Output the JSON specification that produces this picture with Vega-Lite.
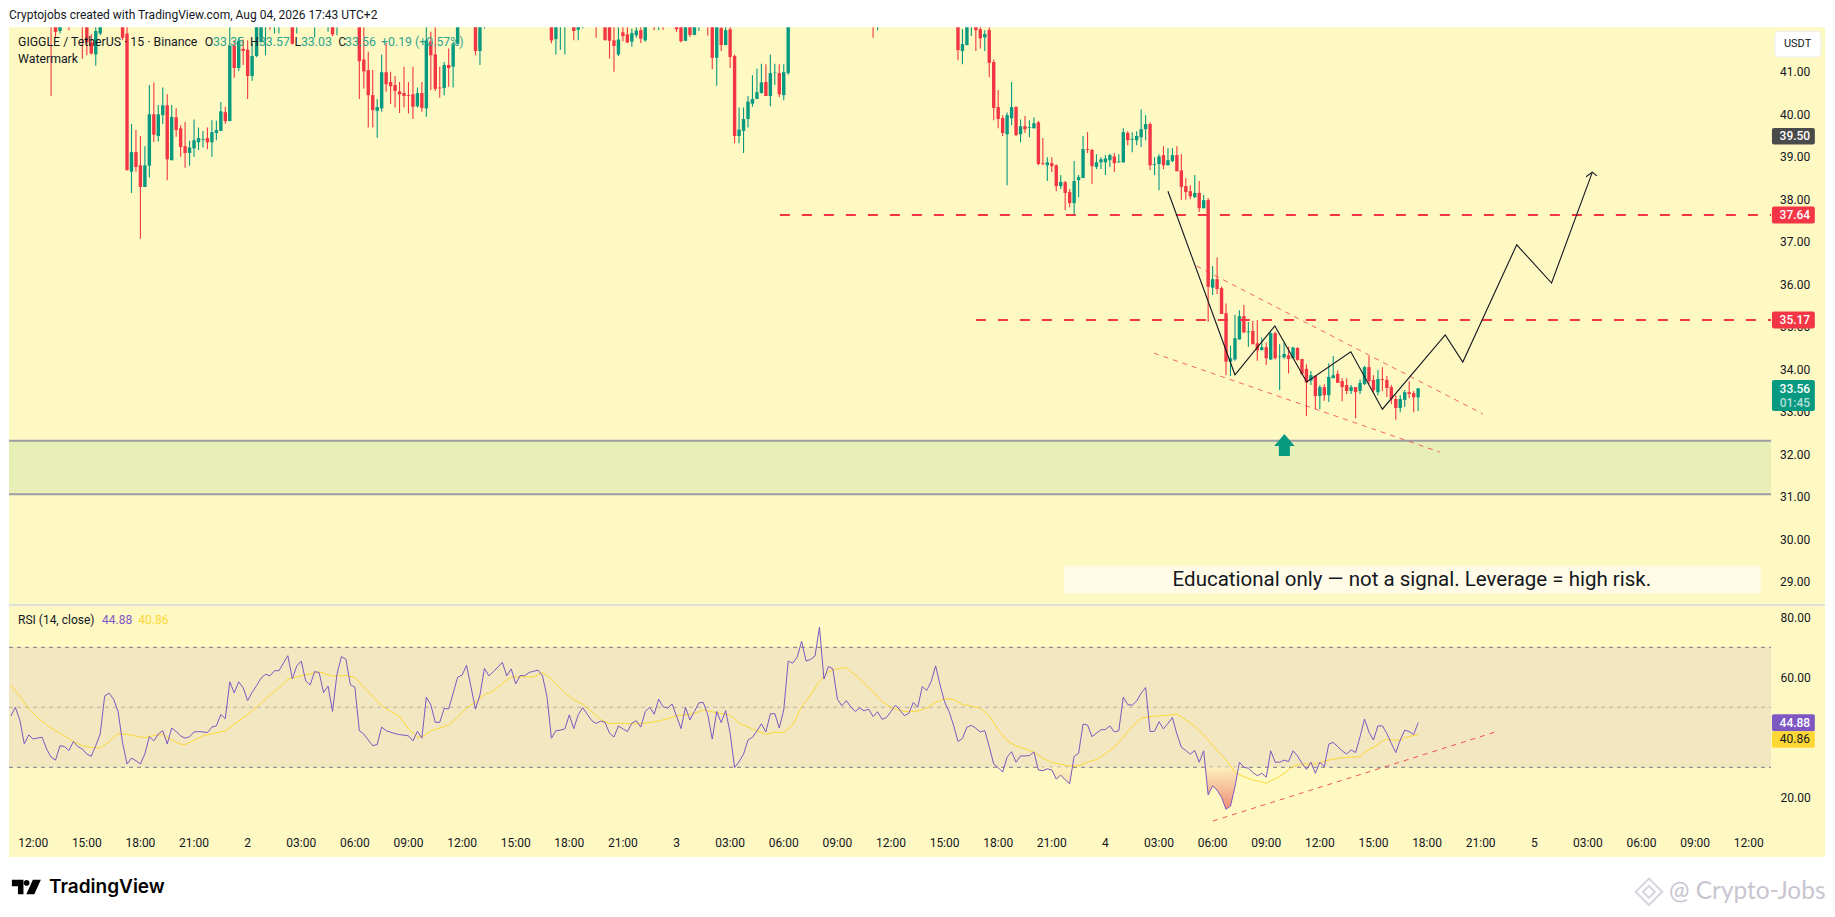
{
"$schema":"https://vega.github.io/schema/vega-lite/v6.json",
"description":"GIGGLE / TetherUS 15m candles with RSI and drawn projection",
"background":"#ffffff",
"width":1835,"height":917,
"padding":0,
"autosize":{"type":"none"},
"view":{"fill":"#FEF8C3","stroke":null},
"config":{"text":{"font":"Roboto"},"axis":{"labelFont":"Roboto"}},
"resolve":{"scale":{"y":"independent"},"axis":{"y":"independent"}},
"datasets":{
"bars":[
{"t":"2026-08-01T10:45Z","r":47.1},{"t":"2026-08-01T11:00Z","r":50},{"t":"2026-08-01T11:15Z","r":45.8},{"t":"2026-08-01T11:30Z","r":37.8},{"t":"2026-08-01T11:45Z","r":40.8},{"t":"2026-08-01T12:00Z","r":39.4},{"t":"2026-08-01T12:15Z","r":39.8},{"t":"2026-08-01T12:30Z","r":40},{"t":"2026-08-01T12:45Z","r":36.1},
{"t":"2026-08-01T13:00Z","r":33.4,"o":42.5,"h":42.6,"l":40.44,"c":42.2},
{"t":"2026-08-01T13:15Z","r":32.4,"o":42.3,"h":42.4,"l":41.83,"c":41.95},
{"t":"2026-08-01T13:30Z","r":37.2,"o":41.97,"h":42.4,"l":41.91,"c":42.3},
{"t":"2026-08-01T13:45Z","r":36.9},
{"t":"2026-08-01T14:00Z","r":35.6,"o":42.4,"h":42.5,"l":41.99,"c":42.2},
{"t":"2026-08-01T14:15Z","r":38.6},{"t":"2026-08-01T14:30Z","r":36.9},
{"t":"2026-08-01T14:45Z","r":36.1,"o":42.4,"h":42.5,"l":41.32,"c":42.2},
{"t":"2026-08-01T15:00Z","r":34.4,"o":42.3,"h":42.4,"l":41.4,"c":41.7},
{"t":"2026-08-01T15:15Z","r":33.7,"o":41.7,"h":41.9,"l":41.42,"c":41.44},
{"t":"2026-08-01T15:30Z","r":37.2,"o":41.42,"h":42.1,"l":41.15,"c":41.97},
{"t":"2026-08-01T15:45Z","r":41.1,"o":41.91,"h":42.4,"l":41.87,"c":42.3},
{"t":"2026-08-01T16:00Z","r":53.8},{"t":"2026-08-01T16:15Z","r":54.7},{"t":"2026-08-01T16:30Z","r":52.7},{"t":"2026-08-01T16:45Z","r":48.6},
{"t":"2026-08-01T17:00Z","r":38.2,"o":42.3,"h":42.4,"l":41.75,"c":41.81},
{"t":"2026-08-01T17:15Z","r":31.1,"o":41.91,"h":42.3,"l":38.68,"c":38.7},
{"t":"2026-08-01T17:30Z","r":33.1,"o":38.66,"h":39.78,"l":38.16,"c":39.12},
{"t":"2026-08-01T17:45Z","r":32.2,"o":39.12,"h":39.64,"l":38.66,"c":38.77},
{"t":"2026-08-01T18:00Z","r":31.1,"o":38.81,"h":39.5,"l":37.08,"c":38.3},
{"t":"2026-08-01T18:15Z","r":34.5,"o":38.3,"h":39.26,"l":38.3,"c":38.81},
{"t":"2026-08-01T18:30Z","r":40.2,"o":38.8,"h":40.7,"l":38.52,"c":40.01},
{"t":"2026-08-01T18:45Z","r":38.8,"o":40.01,"h":40.76,"l":39.36,"c":39.53},
{"t":"2026-08-01T19:00Z","r":41.1,"o":39.5,"h":40.23,"l":39.37,"c":40.01},
{"t":"2026-08-01T19:15Z","r":42.2,"o":39.99,"h":40.64,"l":39.78,"c":40.22},
{"t":"2026-08-01T19:30Z","r":37.8,"o":40.22,"h":40.48,"l":38.46,"c":38.95},
{"t":"2026-08-01T19:45Z","r":43.1,"o":38.93,"h":40.23,"l":38.93,"c":39.95},
{"t":"2026-08-01T20:00Z","r":41.9,"o":39.94,"h":40.15,"l":39.48,"c":39.64},
{"t":"2026-08-01T20:15Z","r":40.5,"o":39.68,"h":39.75,"l":39.01,"c":39.24},
{"t":"2026-08-01T20:30Z","r":39.7,"o":39.26,"h":39.83,"l":38.75,"c":39.1},
{"t":"2026-08-01T20:45Z","r":40.2,"o":39.1,"h":39.39,"l":38.8,"c":39.23},
{"t":"2026-08-01T21:00Z","r":41.8,"o":39.21,"h":39.89,"l":39.01,"c":39.4},
{"t":"2026-08-01T21:15Z","r":41.9,"o":39.35,"h":39.7,"l":39.17,"c":39.45},
{"t":"2026-08-01T21:30Z","r":41.8,"o":39.41,"h":39.62,"l":39.23,"c":39.43},
{"t":"2026-08-01T21:45Z","r":41.6,"o":39.45,"h":39.7,"l":39.19,"c":39.35},
{"t":"2026-08-01T22:00Z","r":43.4,"o":39.35,"h":39.87,"l":39.01,"c":39.59},
{"t":"2026-08-01T22:15Z","r":43.8,"o":39.57,"h":39.86,"l":39.4,"c":39.64},
{"t":"2026-08-01T22:30Z","r":47.6,"o":39.62,"h":40.3,"l":39.62,"c":40.08},
{"t":"2026-08-01T22:45Z","r":46.2,"o":40.06,"h":40.19,"l":39.79,"c":39.85},
{"t":"2026-08-01T23:00Z","r":58.5,"o":39.85,"h":42.2,"l":39.85,"c":41.62},
{"t":"2026-08-01T23:15Z","r":54.8,"o":41.62,"h":41.75,"l":40.87,"c":41.1},
{"t":"2026-08-01T23:30Z","r":58.5,"o":41.1,"h":41.81,"l":41.03,"c":41.74},
{"t":"2026-08-01T23:45Z","r":56.5,"o":41.55,"h":41.77,"l":41.17,"c":41.5},
{"t":"2026-08-02T00:00Z","r":52.2,"o":41.53,"h":41.75,"l":40.37,"c":40.91},
{"t":"2026-08-02T00:15Z","r":55,"o":40.91,"h":41.68,"l":40.8,"c":41.38},
{"t":"2026-08-02T00:30Z","r":57.2,"o":41.38,"h":42.4,"l":41.35,"c":42.2},
{"t":"2026-08-02T00:45Z","r":59.7,"o":41.71,"h":42.4,"l":41.7,"c":42.3},
{"t":"2026-08-02T01:00Z","r":61,"o":42.15,"h":42.5,"l":41.4,"c":42.4},
{"t":"2026-08-02T01:15Z","r":60.5,"o":42.5,"h":42.6,"l":42,"c":42.2},
{"t":"2026-08-02T01:30Z","r":62.2,"o":42.1,"h":42.5,"l":41.91,"c":42.4},
{"t":"2026-08-02T01:45Z","r":62.2,"o":42.1,"h":42.5,"l":41.91,"c":42.4},
{"t":"2026-08-02T02:00Z","r":64.7},{"t":"2026-08-02T02:15Z","r":67.2},
{"t":"2026-08-02T02:30Z","r":59.5,"o":42.3,"h":42.4,"l":41.65,"c":41.67},
{"t":"2026-08-02T02:45Z","r":63.8,"o":42.15,"h":42.4,"l":41.91,"c":42.3},
{"t":"2026-08-02T03:00Z","r":65.4},{"t":"2026-08-02T03:15Z","r":58.8},{"t":"2026-08-02T03:30Z","r":57.5},
{"t":"2026-08-02T03:45Z","r":61.9,"o":42.15,"h":42.5,"l":41.82,"c":42.4},
{"t":"2026-08-02T04:00Z","r":61.6},{"t":"2026-08-02T04:15Z","r":54.9},
{"t":"2026-08-02T04:30Z","r":57.1,"o":42.15,"h":42.5,"l":41.95,"c":42.4},
{"t":"2026-08-02T04:45Z","r":48.6,"o":42.3,"h":42.4,"l":41.85,"c":41.89},
{"t":"2026-08-02T05:00Z","r":61.1,"o":42.15,"h":42.5,"l":41.87,"c":42.4},
{"t":"2026-08-02T05:15Z","r":66.9},{"t":"2026-08-02T05:30Z","r":66},{"t":"2026-08-02T05:45Z","r":57.5},{"t":"2026-08-02T06:00Z","r":56.7},
{"t":"2026-08-02T06:15Z","r":42.2,"o":42.4,"h":42.5,"l":40.37,"c":41.26},
{"t":"2026-08-02T06:30Z","r":41.1,"o":41.3,"h":42.2,"l":40.62,"c":41.02},
{"t":"2026-08-02T06:45Z","r":39.1,"o":41.05,"h":41.48,"l":39.7,"c":40.46},
{"t":"2026-08-02T07:00Z","r":37.2,"o":40.46,"h":41.05,"l":39.7,"c":40.11},
{"t":"2026-08-02T07:15Z","r":37.6,"o":40.09,"h":40.37,"l":39.46,"c":40.18},
{"t":"2026-08-02T07:30Z","r":43.4,"o":40.15,"h":41.42,"l":40.07,"c":41},
{"t":"2026-08-02T07:45Z","r":42.2,"o":41,"h":41.69,"l":40.54,"c":40.72},
{"t":"2026-08-02T08:00Z","r":41.7,"o":40.77,"h":41.01,"l":40.25,"c":40.67},
{"t":"2026-08-02T08:15Z","r":41.2,"o":40.7,"h":40.91,"l":40.17,"c":40.56},
{"t":"2026-08-02T08:30Z","r":40.9,"o":40.55,"h":40.77,"l":40.04,"c":40.48},
{"t":"2026-08-02T08:45Z","r":40.7,"o":40.51,"h":41.13,"l":40.17,"c":40.44},
{"t":"2026-08-02T09:00Z","r":40.5,"o":40.46,"h":40.77,"l":40.03,"c":40.44},
{"t":"2026-08-02T09:15Z","r":38.8,"o":40.48,"h":41.13,"l":39.9,"c":40.19},
{"t":"2026-08-02T09:30Z","r":42,"o":40.2,"h":40.64,"l":40.17,"c":40.51},
{"t":"2026-08-02T09:45Z","r":39.7,"o":40.51,"h":40.77,"l":40.07,"c":40.16},
{"t":"2026-08-02T10:00Z","r":53.4,"o":40.15,"h":42.3,"l":39.95,"c":41.75},
{"t":"2026-08-02T10:15Z","r":50.8,"o":41.72,"h":41.95,"l":40.58,"c":41.4},
{"t":"2026-08-02T10:30Z","r":45,"o":41.42,"h":42.2,"l":40.56,"c":40.61},
{"t":"2026-08-02T10:45Z","r":45,"o":40.64,"h":41.13,"l":40.4,"c":40.62},
{"t":"2026-08-02T11:00Z","r":49.6,"o":40.63,"h":41.24,"l":40.46,"c":41.17},
{"t":"2026-08-02T11:15Z","r":49.5,"o":41.17,"h":41.56,"l":40.66,"c":41.1},
{"t":"2026-08-02T11:30Z","r":54.7,"o":41.13,"h":41.71,"l":40.64,"c":41.67},
{"t":"2026-08-02T11:45Z","r":60,"o":41.67,"h":42.4,"l":41.65,"c":42.2},
{"t":"2026-08-02T12:00Z","r":60.7},{"t":"2026-08-02T12:15Z","r":64},{"t":"2026-08-02T12:30Z","r":56.7},
{"t":"2026-08-02T12:45Z","r":49.4,"o":42.3,"h":42.4,"l":41.4,"c":41.5},
{"t":"2026-08-02T13:00Z","r":54.1,"o":41.5,"h":42.4,"l":41.17,"c":42.3},
{"t":"2026-08-02T13:15Z","r":63,"o":42.2,"h":42.5,"l":42.03,"c":42.4},
{"t":"2026-08-02T13:30Z","r":60.5},{"t":"2026-08-02T13:45Z","r":61.9},{"t":"2026-08-02T14:00Z","r":63.4},{"t":"2026-08-02T14:15Z","r":65},{"t":"2026-08-02T14:30Z","r":60.5},{"t":"2026-08-02T14:45Z","r":62.8},{"t":"2026-08-02T15:00Z","r":57.8},{"t":"2026-08-02T15:15Z","r":60.6},{"t":"2026-08-02T15:30Z","r":60.5},{"t":"2026-08-02T15:45Z","r":61.6},{"t":"2026-08-02T16:00Z","r":62},{"t":"2026-08-02T16:15Z","r":62.4},{"t":"2026-08-02T16:30Z","r":60.5},{"t":"2026-08-02T16:45Z","r":53.6},
{"t":"2026-08-02T17:00Z","r":39.7,"o":42.4,"h":42.5,"l":41.68,"c":41.75},
{"t":"2026-08-02T17:15Z","r":42.2,"o":41.78,"h":42.4,"l":41.42,"c":42.3},
{"t":"2026-08-02T17:30Z","r":42.4,"o":42.15,"h":42.5,"l":41.53,"c":42.4},
{"t":"2026-08-02T17:45Z","r":42.8,"o":42.15,"h":42.5,"l":41.42,"c":42.4},
{"t":"2026-08-02T18:00Z","r":47.5},
{"t":"2026-08-02T18:15Z","r":42.9,"o":42.3,"h":42.4,"l":41.75,"c":41.97},
{"t":"2026-08-02T18:30Z","r":47.5,"o":42,"h":42.4,"l":41.75,"c":42.3},
{"t":"2026-08-02T18:45Z","r":49.9,"o":42.2,"h":42.5,"l":42.03,"c":42.4},
{"t":"2026-08-02T19:00Z","r":47.7},{"t":"2026-08-02T19:15Z","r":45.6},
{"t":"2026-08-02T19:30Z","r":44.6,"o":42.4,"h":42.5,"l":41.81,"c":42.2},
{"t":"2026-08-02T19:45Z","r":45.4},
{"t":"2026-08-02T20:00Z","r":45,"o":42.3,"h":42.4,"l":41.74,"c":41.76},
{"t":"2026-08-02T20:15Z","r":41.4,"o":42.3,"h":42.4,"l":41.32,"c":41.74},
{"t":"2026-08-02T20:30Z","r":40.1,"o":41.75,"h":42.2,"l":41.01,"c":41.62},
{"t":"2026-08-02T20:45Z","r":43.8,"o":41.42,"h":42.2,"l":41.38,"c":41.77},
{"t":"2026-08-02T21:00Z","r":42.8,"o":41.94,"h":42.2,"l":41.73,"c":41.85},
{"t":"2026-08-02T21:15Z","r":41.9,"o":41.89,"h":42.2,"l":41.69,"c":41.7},
{"t":"2026-08-02T21:30Z","r":44.7,"o":41.72,"h":42.03,"l":41.6,"c":41.92},
{"t":"2026-08-02T21:45Z","r":45.5,"o":41.87,"h":42.2,"l":41.81,"c":41.98},
{"t":"2026-08-02T22:00Z","r":43.4,"o":41.99,"h":42.2,"l":41.69,"c":41.79},
{"t":"2026-08-02T22:15Z","r":48.6,"o":41.75,"h":42.3,"l":41.72,"c":42.2},
{"t":"2026-08-02T22:30Z","r":50},
{"t":"2026-08-02T22:45Z","r":47.7,"o":42.4,"h":42.5,"l":41.99,"c":42.2},
{"t":"2026-08-02T23:00Z","r":52.7,"o":42.2,"h":42.5,"l":41.99,"c":42.4},
{"t":"2026-08-02T23:15Z","r":50.2,"o":42.4,"h":42.5,"l":42,"c":42.2},
{"t":"2026-08-02T23:30Z","r":49.7},{"t":"2026-08-02T23:45Z","r":51.1},
{"t":"2026-08-03T00:00Z","r":47.1,"o":42.3,"h":42.4,"l":41.95,"c":42.01},
{"t":"2026-08-03T00:15Z","r":42.9,"o":42.3,"h":42.4,"l":41.7,"c":41.73},
{"t":"2026-08-03T00:30Z","r":50,"o":41.74,"h":42.4,"l":41.73,"c":42.3},
{"t":"2026-08-03T00:45Z","r":45.8,"o":42.3,"h":42.4,"l":41.83,"c":41.88},
{"t":"2026-08-03T01:00Z","r":48.6,"o":41.88,"h":42.4,"l":41.87,"c":42.3},
{"t":"2026-08-03T01:15Z","r":51.5,"o":42.15,"h":42.4,"l":41.97,"c":42.3},
{"t":"2026-08-03T01:30Z","r":51.6},
{"t":"2026-08-03T01:45Z","r":47.5,"o":42.4,"h":42.5,"l":41.86,"c":42.2},
{"t":"2026-08-03T02:00Z","r":39.4,"o":42.4,"h":42.5,"l":41.07,"c":41.34},
{"t":"2026-08-03T02:15Z","r":48.6,"o":41.34,"h":42.4,"l":40.68,"c":42.3},
{"t":"2026-08-03T02:30Z","r":44.9,"o":42.04,"h":42.2,"l":41.5,"c":41.64},
{"t":"2026-08-03T02:45Z","r":48.9,"o":41.64,"h":42.2,"l":41.64,"c":41.99},
{"t":"2026-08-03T03:00Z","r":41.4,"o":42.01,"h":42.2,"l":41.1,"c":41.36},
{"t":"2026-08-03T03:15Z","r":29.9,"o":41.38,"h":41.42,"l":39.33,"c":39.5},
{"t":"2026-08-03T03:30Z","r":31.9,"o":39.5,"h":40.17,"l":39.33,"c":39.65},
{"t":"2026-08-03T03:45Z","r":34.4,"o":39.62,"h":40.17,"l":39.1,"c":39.9},
{"t":"2026-08-03T04:00Z","r":39.1,"o":39.9,"h":40.44,"l":39.7,"c":40.31},
{"t":"2026-08-03T04:15Z","r":40,"o":40.26,"h":40.93,"l":40.19,"c":40.37},
{"t":"2026-08-03T04:30Z","r":42.1,"o":40.37,"h":41.09,"l":40.37,"c":40.53},
{"t":"2026-08-03T04:45Z","r":44.5,"o":40.51,"h":41.2,"l":40.5,"c":40.76},
{"t":"2026-08-03T05:00Z","r":41.8,"o":40.77,"h":41.19,"l":40.44,"c":40.44},
{"t":"2026-08-03T05:15Z","r":47.8,"o":40.44,"h":41.42,"l":40.2,"c":40.98},
{"t":"2026-08-03T05:30Z","r":47.9,"o":40.99,"h":41.2,"l":40.7,"c":41},
{"t":"2026-08-03T05:45Z","r":43.1,"o":40.98,"h":41.19,"l":40.42,"c":40.48},
{"t":"2026-08-03T06:00Z","r":49.1,"o":40.46,"h":41.19,"l":40.34,"c":41},
{"t":"2026-08-03T06:15Z","r":65.4,"o":40.98,"h":42.4,"l":40.94,"c":42.3},
{"t":"2026-08-03T06:30Z","r":64.7},{"t":"2026-08-03T06:45Z","r":66.7},{"t":"2026-08-03T07:00Z","r":72},{"t":"2026-08-03T07:15Z","r":65.4},{"t":"2026-08-03T07:30Z","r":66},{"t":"2026-08-03T07:45Z","r":67.1},{"t":"2026-08-03T08:00Z","r":76.7},{"t":"2026-08-03T08:15Z","r":59.4},{"t":"2026-08-03T08:30Z","r":63.6},{"t":"2026-08-03T08:45Z","r":62.8},{"t":"2026-08-03T09:00Z","r":52.8},{"t":"2026-08-03T09:15Z","r":50.5},{"t":"2026-08-03T09:30Z","r":52.2},{"t":"2026-08-03T09:45Z","r":50.2},{"t":"2026-08-03T10:00Z","r":48.6},{"t":"2026-08-03T10:15Z","r":49.8},{"t":"2026-08-03T10:30Z","r":48.8},{"t":"2026-08-03T10:45Z","r":49.4},
{"t":"2026-08-03T11:00Z","r":46.9,"o":42.4,"h":42.5,"l":41.81,"c":42.2},
{"t":"2026-08-03T11:15Z","r":48.5,"o":42.2,"h":42.5,"l":41.99,"c":42.4},
{"t":"2026-08-03T11:30Z","r":46},{"t":"2026-08-03T11:45Z","r":46.6},{"t":"2026-08-03T12:00Z","r":48.6},{"t":"2026-08-03T12:15Z","r":50.7},{"t":"2026-08-03T12:30Z","r":49.1},{"t":"2026-08-03T12:45Z","r":47.2},{"t":"2026-08-03T13:00Z","r":48},{"t":"2026-08-03T13:15Z","r":51.6},{"t":"2026-08-03T13:30Z","r":50},{"t":"2026-08-03T13:45Z","r":56.9},{"t":"2026-08-03T14:00Z","r":55.6},{"t":"2026-08-03T14:15Z","r":58.6},{"t":"2026-08-03T14:30Z","r":63.8},{"t":"2026-08-03T14:45Z","r":57.4},{"t":"2026-08-03T15:00Z","r":51.8},{"t":"2026-08-03T15:15Z","r":48.6},{"t":"2026-08-03T15:30Z","r":44.1},
{"t":"2026-08-03T15:45Z","r":38.6,"o":42.3,"h":42.4,"l":41.28,"c":41.52},
{"t":"2026-08-03T16:00Z","r":39.6,"o":41.5,"h":42.01,"l":41.19,"c":41.66},
{"t":"2026-08-03T16:15Z","r":43.4,"o":41.64,"h":42.4,"l":41.63,"c":42.3},
{"t":"2026-08-03T16:30Z","r":44,"o":42.2,"h":42.5,"l":41.85,"c":42.4},
{"t":"2026-08-03T16:45Z","r":43,"o":42.3,"h":42.4,"l":41.5,"c":41.99},
{"t":"2026-08-03T17:00Z","r":41.8,"o":42.01,"h":42.2,"l":41.56,"c":41.8},
{"t":"2026-08-03T17:15Z","r":42.2,"o":41.82,"h":41.99,"l":41.5,"c":41.9},
{"t":"2026-08-03T17:30Z","r":36.9,"o":41.99,"h":42.2,"l":40.88,"c":41.22},
{"t":"2026-08-03T17:45Z","r":31.1,"o":41.24,"h":41.3,"l":39.87,"c":40.16},
{"t":"2026-08-03T18:00Z","r":29.9,"o":40.18,"h":40.58,"l":39.68,"c":39.9},
{"t":"2026-08-03T18:15Z","r":28.4,"o":39.92,"h":39.99,"l":39.5,"c":39.57},
{"t":"2026-08-03T18:30Z","r":33.4,"o":39.54,"h":40.05,"l":38.34,"c":39.99},
{"t":"2026-08-03T18:45Z","r":35.2,"o":39.92,"h":40.77,"l":39.75,"c":40.18},
{"t":"2026-08-03T19:00Z","r":31.7,"o":40.18,"h":40.2,"l":39.5,"c":39.52},
{"t":"2026-08-03T19:15Z","r":33.8,"o":39.54,"h":39.89,"l":39.35,"c":39.73},
{"t":"2026-08-03T19:30Z","r":33.8,"o":39.73,"h":39.97,"l":39.57,"c":39.66},
{"t":"2026-08-03T19:45Z","r":33.9,"o":39.69,"h":39.87,"l":39.47,"c":39.71},
{"t":"2026-08-03T20:00Z","r":35.1,"o":39.68,"h":39.94,"l":39.68,"c":39.8},
{"t":"2026-08-03T20:15Z","r":29.1,"o":39.82,"h":39.85,"l":38.81,"c":38.84},
{"t":"2026-08-03T20:30Z","r":28.9,"o":38.86,"h":39.45,"l":38.81,"c":38.84},
{"t":"2026-08-03T20:45Z","r":29.5,"o":38.81,"h":39,"l":38.44,"c":38.88},
{"t":"2026-08-03T21:00Z","r":29.1,"o":38.86,"h":39,"l":38.65,"c":38.79},
{"t":"2026-08-03T21:15Z","r":26.1,"o":38.81,"h":38.83,"l":38.2,"c":38.32},
{"t":"2026-08-03T21:30Z","r":27.4,"o":38.32,"h":38.58,"l":38.25,"c":38.42},
{"t":"2026-08-03T21:45Z","r":25.8,"o":38.41,"h":38.44,"l":37.75,"c":38.16},
{"t":"2026-08-03T22:00Z","r":24.5,"o":38.18,"h":38.25,"l":37.82,"c":37.92},
{"t":"2026-08-03T22:15Z","r":33.6,"o":37.92,"h":38.91,"l":37.64,"c":38.44},
{"t":"2026-08-03T22:30Z","r":34.7,"o":38.46,"h":38.58,"l":38.06,"c":38.53},
{"t":"2026-08-03T22:45Z","r":44.4,"o":38.51,"h":39.5,"l":38.51,"c":39.19},
{"t":"2026-08-03T23:00Z","r":44.1,"o":39.19,"h":39.59,"l":39.1,"c":39.17},
{"t":"2026-08-03T23:15Z","r":40.2,"o":39.17,"h":39.2,"l":38.37,"c":38.79},
{"t":"2026-08-03T23:30Z","r":41.4,"o":38.77,"h":39.07,"l":38.72,"c":38.88},
{"t":"2026-08-03T23:45Z","r":42.5,"o":38.88,"h":39,"l":38.72,"c":38.95},
{"t":"2026-08-04T00:00Z","r":42.6,"o":38.88,"h":39.05,"l":38.58,"c":38.97},
{"t":"2026-08-04T00:15Z","r":43.8,"o":38.93,"h":39.08,"l":38.77,"c":39.05},
{"t":"2026-08-04T00:30Z","r":41.8,"o":39.02,"h":39.1,"l":38.65,"c":38.86},
{"t":"2026-08-04T00:45Z","r":42.2,"o":38.88,"h":39.07,"l":38.87,"c":38.9},
{"t":"2026-08-04T01:00Z","r":53.4,"o":38.88,"h":39.68,"l":38.87,"c":39.59},
{"t":"2026-08-04T01:15Z","r":50.9,"o":39.57,"h":39.61,"l":39.28,"c":39.4},
{"t":"2026-08-04T01:30Z","r":50.7,"o":39.41,"h":39.59,"l":39.12,"c":39.43},
{"t":"2026-08-04T01:45Z","r":52.1,"o":39.4,"h":39.61,"l":39.28,"c":39.5},
{"t":"2026-08-04T02:00Z","r":54.7,"o":39.47,"h":40.13,"l":39.24,"c":39.66},
{"t":"2026-08-04T02:15Z","r":56.6,"o":39.66,"h":39.99,"l":39.4,"c":39.78},
{"t":"2026-08-04T02:30Z","r":41.9,"o":39.78,"h":39.82,"l":38.7,"c":38.81},
{"t":"2026-08-04T02:45Z","r":42,"o":38.82,"h":39,"l":38.58,"c":38.84},
{"t":"2026-08-04T03:00Z","r":45.2,"o":38.84,"h":39.07,"l":38.22,"c":39.02},
{"t":"2026-08-04T03:15Z","r":42.8,"o":39.05,"h":39.26,"l":38.72,"c":38.81},
{"t":"2026-08-04T03:30Z","r":44.6,"o":38.81,"h":39.21,"l":38.81,"c":38.93},
{"t":"2026-08-04T03:45Z","r":46.6,"o":38.91,"h":39.21,"l":38.88,"c":39.05},
{"t":"2026-08-04T04:00Z","r":41.1,"o":39.05,"h":39.26,"l":38.67,"c":38.67},
{"t":"2026-08-04T04:15Z","r":36.7,"o":38.69,"h":39.07,"l":38,"c":38.3},
{"t":"2026-08-04T04:30Z","r":35.6,"o":38.32,"h":38.51,"l":38,"c":38.18},
{"t":"2026-08-04T04:45Z","r":34.4,"o":38.2,"h":38.34,"l":38.01,"c":38.08},
{"t":"2026-08-04T05:00Z","r":35.6,"o":38.06,"h":38.58,"l":38.04,"c":38.16},
{"t":"2026-08-04T05:15Z","r":31.7,"o":38.16,"h":38.44,"l":37.71,"c":37.8},
{"t":"2026-08-04T05:30Z","r":35.5,"o":37.8,"h":38.11,"l":37.8,"c":37.99},
{"t":"2026-08-04T05:45Z","r":20.8,"o":37.99,"h":38.04,"l":35.13,"c":35.95},
{"t":"2026-08-04T06:00Z","r":23.8,"o":35.93,"h":36.44,"l":35.76,"c":36.13},
{"t":"2026-08-04T06:15Z","r":22.4,"o":36.13,"h":36.64,"l":35.78,"c":35.9},
{"t":"2026-08-04T06:30Z","r":20,"o":35.92,"h":35.95,"l":35.31,"c":35.31},
{"t":"2026-08-04T06:45Z","r":16,"o":35.33,"h":35.56,"l":33.87,"c":34.19},
{"t":"2026-08-04T07:00Z","r":17.1,"o":34.19,"h":34.57,"l":33.85,"c":34.27},
{"t":"2026-08-04T07:15Z","r":23.5,"o":34.24,"h":35.29,"l":34.21,"c":34.74},
{"t":"2026-08-04T07:30Z","r":31.7,"o":34.71,"h":35.4,"l":34.71,"c":35.26},
{"t":"2026-08-04T07:45Z","r":30,"o":35.26,"h":35.52,"l":34.86,"c":34.88},
{"t":"2026-08-04T08:00Z","r":29.7,"o":34.88,"h":35.12,"l":34.54,"c":34.9},
{"t":"2026-08-04T08:15Z","r":28.3,"o":34.91,"h":35.15,"l":34.6,"c":34.6},
{"t":"2026-08-04T08:30Z","r":27.2,"o":34.62,"h":35.17,"l":34.21,"c":34.46},
{"t":"2026-08-04T08:45Z","r":28,"o":34.46,"h":34.76,"l":34.46,"c":34.53},
{"t":"2026-08-04T09:00Z","r":26.7,"o":34.53,"h":34.64,"l":34.11,"c":34.27},
{"t":"2026-08-04T09:15Z","r":35.5,"o":34.24,"h":34.88,"l":34.23,"c":34.86},
{"t":"2026-08-04T09:30Z","r":31.7,"o":34.86,"h":34.89,"l":34.24,"c":34.27},
{"t":"2026-08-04T09:45Z","r":31.7,"o":34.31,"h":34.6,"l":33.52,"c":34.32},
{"t":"2026-08-04T10:00Z","r":32.4,"o":34.29,"h":34.64,"l":34.26,"c":34.37},
{"t":"2026-08-04T10:15Z","r":31.9,"o":34.34,"h":34.54,"l":33.91,"c":34.25},
{"t":"2026-08-04T10:30Z","r":35.5,"o":34.27,"h":34.54,"l":34.27,"c":34.52},
{"t":"2026-08-04T10:45Z","r":33.8,"o":34.51,"h":34.53,"l":34.21,"c":34.23},
{"t":"2026-08-04T11:00Z","r":31.3,"o":34.25,"h":34.25,"l":33.87,"c":33.9},
{"t":"2026-08-04T11:15Z","r":29.3,"o":34.02,"h":34.13,"l":32.91,"c":33.7},
{"t":"2026-08-04T11:30Z","r":31.7,"o":33.74,"h":33.97,"l":33.64,"c":33.87},
{"t":"2026-08-04T11:45Z","r":28,"o":33.85,"h":33.87,"l":33.07,"c":33.38},
{"t":"2026-08-04T12:00Z","r":31.7,"o":33.38,"h":33.64,"l":33.07,"c":33.59},
{"t":"2026-08-04T12:15Z","r":30.2,"o":33.59,"h":33.66,"l":33.27,"c":33.4},
{"t":"2026-08-04T12:30Z","r":37.7,"o":33.4,"h":34.15,"l":33.24,"c":33.83},
{"t":"2026-08-04T12:45Z","r":38.3,"o":33.8,"h":34.32,"l":33.8,"c":33.87},
{"t":"2026-08-04T13:00Z","r":36.9,"o":33.9,"h":33.98,"l":33.69,"c":33.69},
{"t":"2026-08-04T13:15Z","r":35.5,"o":33.73,"h":33.8,"l":33.26,"c":33.59},
{"t":"2026-08-04T13:30Z","r":34.4,"o":33.64,"h":33.8,"l":33.43,"c":33.5},
{"t":"2026-08-04T13:45Z","r":35.8,"o":33.5,"h":33.64,"l":33.43,"c":33.59},
{"t":"2026-08-04T14:00Z","r":34.9,"o":33.59,"h":33.59,"l":32.86,"c":33.47},
{"t":"2026-08-04T14:15Z","r":40.2,"o":33.5,"h":33.77,"l":33.43,"c":33.69},
{"t":"2026-08-04T14:30Z","r":46.1,"o":33.66,"h":34.09,"l":33.64,"c":34.06},
{"t":"2026-08-04T14:45Z","r":41.7,"o":34.06,"h":34.32,"l":33.66,"c":33.73},
{"t":"2026-08-04T15:00Z","r":39.1,"o":33.76,"h":33.87,"l":33.47,"c":33.52},
{"t":"2026-08-04T15:15Z","r":43.8,"o":33.47,"h":33.99,"l":33.4,"c":33.78},
{"t":"2026-08-04T15:30Z","r":43.8,"o":33.78,"h":34.06,"l":33.5,"c":33.76},
{"t":"2026-08-04T15:45Z","r":41.3,"o":33.76,"h":33.85,"l":33.36,"c":33.57},
{"t":"2026-08-04T16:00Z","r":38,"o":33.59,"h":33.64,"l":33.19,"c":33.31},
{"t":"2026-08-04T16:15Z","r":34.9,"o":33.31,"h":33.4,"l":32.82,"c":33.1},
{"t":"2026-08-04T16:30Z","r":39.1,"o":33.1,"h":33.4,"l":33,"c":33.31},
{"t":"2026-08-04T16:45Z","r":42.4,"o":33.29,"h":33.52,"l":33.12,"c":33.47},
{"t":"2026-08-04T17:00Z","r":41.9,"o":33.47,"h":33.73,"l":33.33,"c":33.43},
{"t":"2026-08-04T17:15Z","r":40.9,"o":33.45,"h":33.5,"l":33,"c":33.35},
{"t":"2026-08-04T17:30Z","r":44.88,"o":33.35,"h":33.57,"l":33.03,"c":33.56}
],
"ma":[
{"t":"2026-08-01T10:45Z","r":57.4},{"t":"2026-08-01T11:15Z","r":53.6},{"t":"2026-08-01T11:45Z","r":49.4},{"t":"2026-08-01T12:15Z","r":46.6},{"t":"2026-08-01T12:45Z","r":44.1},{"t":"2026-08-01T13:15Z","r":42.2},{"t":"2026-08-01T13:45Z","r":40.5},{"t":"2026-08-01T14:15Z","r":38.6},{"t":"2026-08-01T14:45Z","r":37.2},{"t":"2026-08-01T15:15Z","r":36.6},{"t":"2026-08-01T15:45Z","r":36.4},{"t":"2026-08-01T16:15Z","r":38.6},{"t":"2026-08-01T16:45Z","r":41.2},{"t":"2026-08-01T17:15Z","r":41},{"t":"2026-08-01T17:45Z","r":40.4},{"t":"2026-08-01T18:15Z","r":39.9},{"t":"2026-08-01T18:45Z","r":40.6},{"t":"2026-08-01T19:15Z","r":41},{"t":"2026-08-01T19:45Z","r":39.1},{"t":"2026-08-01T20:15Z","r":37.7},{"t":"2026-08-01T20:30Z","r":37.6},{"t":"2026-08-01T21:00Z","r":39},{"t":"2026-08-01T21:30Z","r":40.5},{"t":"2026-08-01T22:00Z","r":41.2},{"t":"2026-08-01T22:45Z","r":42.1},{"t":"2026-08-01T23:15Z","r":44.4},
{"t":"2026-08-02T00:00Z","r":47.6},{"t":"2026-08-02T00:30Z","r":50},{"t":"2026-08-02T01:15Z","r":54.1},{"t":"2026-08-02T02:00Z","r":57.7},{"t":"2026-08-02T02:15Z","r":59.4},{"t":"2026-08-02T02:45Z","r":60.1},{"t":"2026-08-02T03:15Z","r":60.8},{"t":"2026-08-02T04:00Z","r":61.8},{"t":"2026-08-02T04:45Z","r":60.4},{"t":"2026-08-02T05:30Z","r":60.6},{"t":"2026-08-02T06:00Z","r":59.9},{"t":"2026-08-02T06:30Z","r":56.7},{"t":"2026-08-02T07:00Z","r":53.6},{"t":"2026-08-02T07:30Z","r":50.5},{"t":"2026-08-02T08:00Z","r":48.6},{"t":"2026-08-02T08:30Z","r":47},{"t":"2026-08-02T09:00Z","r":42.8},{"t":"2026-08-02T09:30Z","r":40.1},{"t":"2026-08-02T09:45Z","r":40.1},{"t":"2026-08-02T10:15Z","r":42.1},{"t":"2026-08-02T10:45Z","r":43.1},{"t":"2026-08-02T11:15Z","r":44.1},{"t":"2026-08-02T11:45Z","r":46.7},{"t":"2026-08-02T12:15Z","r":49.8},{"t":"2026-08-02T12:45Z","r":51.7},{"t":"2026-08-02T13:15Z","r":54.2},{"t":"2026-08-02T13:45Z","r":55.4},{"t":"2026-08-02T14:15Z","r":58},{"t":"2026-08-02T14:45Z","r":60},{"t":"2026-08-02T15:15Z","r":60.2},{"t":"2026-08-02T16:00Z","r":60.1},{"t":"2026-08-02T16:30Z","r":61.6},{"t":"2026-08-02T17:00Z","r":59.4},{"t":"2026-08-02T17:45Z","r":54.9},{"t":"2026-08-02T18:15Z","r":52.5},{"t":"2026-08-02T18:45Z","r":51},{"t":"2026-08-02T19:15Z","r":48.6},{"t":"2026-08-02T19:45Z","r":45.9},{"t":"2026-08-02T20:15Z","r":44.6},{"t":"2026-08-02T20:45Z","r":44.7},
{"t":"2026-08-02T21:00Z","r":44.6},{"t":"2026-08-02T22:00Z","r":44.5},{"t":"2026-08-02T23:00Z","r":45.4},{"t":"2026-08-03T00:00Z","r":47.1},{"t":"2026-08-03T01:00Z","r":48},{"t":"2026-08-03T01:30Z","r":49.1},{"t":"2026-08-03T02:15Z","r":48.2},{"t":"2026-08-03T03:00Z","r":47.4},{"t":"2026-08-03T03:30Z","r":44.7},{"t":"2026-08-03T04:15Z","r":42.8},{"t":"2026-08-03T05:00Z","r":41},{"t":"2026-08-03T05:30Z","r":41.7},{"t":"2026-08-03T06:00Z","r":41.6},{"t":"2026-08-03T06:30Z","r":44.1},{"t":"2026-08-03T07:00Z","r":50.2},{"t":"2026-08-03T07:30Z","r":54.1},{"t":"2026-08-03T08:00Z","r":58.6},{"t":"2026-08-03T08:30Z","r":61.9},{"t":"2026-08-03T09:00Z","r":62.8},{"t":"2026-08-03T09:30Z","r":63.2},{"t":"2026-08-03T10:00Z","r":60.8},{"t":"2026-08-03T10:30Z","r":58},{"t":"2026-08-03T11:00Z","r":55.2},{"t":"2026-08-03T11:30Z","r":51.9},{"t":"2026-08-03T12:00Z","r":50},{"t":"2026-08-03T12:30Z","r":48.9},{"t":"2026-08-03T13:00Z","r":48.5},{"t":"2026-08-03T13:30Z","r":48.8},{"t":"2026-08-03T14:00Z","r":49.7},{"t":"2026-08-03T14:30Z","r":51.7},{"t":"2026-08-03T15:00Z","r":52.8},{"t":"2026-08-03T15:30Z","r":52.6},{"t":"2026-08-03T16:00Z","r":50.9},{"t":"2026-08-03T16:30Z","r":50.4},{"t":"2026-08-03T17:00Z","r":49.7},{"t":"2026-08-03T17:30Z","r":47.1},{"t":"2026-08-03T18:00Z","r":42.5},{"t":"2026-08-03T18:30Z","r":38.9},{"t":"2026-08-03T19:00Z","r":37.1},{"t":"2026-08-03T19:30Z","r":36.2},{"t":"2026-08-03T20:00Z","r":35},{"t":"2026-08-03T20:30Z","r":33},{"t":"2026-08-03T21:00Z","r":31.6},{"t":"2026-08-03T21:30Z","r":31},{"t":"2026-08-03T22:00Z","r":30.4},{"t":"2026-08-03T22:30Z","r":30.5},{"t":"2026-08-03T23:00Z","r":31.7},{"t":"2026-08-03T23:30Z","r":32.6},{"t":"2026-08-04T00:00Z","r":34.5},{"t":"2026-08-04T00:30Z","r":36.7},{"t":"2026-08-04T01:00Z","r":40},{"t":"2026-08-04T01:30Z","r":43.6},{"t":"2026-08-04T02:00Z","r":46.4},{"t":"2026-08-04T02:30Z","r":46.9},{"t":"2026-08-04T03:00Z","r":47.1},{"t":"2026-08-04T03:30Z","r":47.4},{"t":"2026-08-04T04:00Z","r":47.7},{"t":"2026-08-04T04:30Z","r":45.8},{"t":"2026-08-04T05:00Z","r":43.6},{"t":"2026-08-04T05:30Z","r":40.8},{"t":"2026-08-04T06:15Z","r":35.6},{"t":"2026-08-04T06:45Z","r":32.5},{"t":"2026-08-04T07:15Z","r":28.3},{"t":"2026-08-04T07:45Z","r":26.9},{"t":"2026-08-04T08:15Z","r":25.8},{"t":"2026-08-04T09:00Z","r":24.7},{"t":"2026-08-04T09:15Z","r":25.4},{"t":"2026-08-04T09:45Z","r":26.9},{"t":"2026-08-04T10:15Z","r":29.1},{"t":"2026-08-04T10:30Z","r":30.4},{"t":"2026-08-04T11:00Z","r":31.1},{"t":"2026-08-04T11:45Z","r":31.1},{"t":"2026-08-04T12:30Z","r":32.4},{"t":"2026-08-04T13:00Z","r":33},{"t":"2026-08-04T13:30Z","r":33.3},{"t":"2026-08-04T14:15Z","r":33.5},{"t":"2026-08-04T14:30Z","r":34.9},{"t":"2026-08-04T14:45Z","r":36},{"t":"2026-08-04T15:00Z","r":36.5},{"t":"2026-08-04T15:30Z","r":38.8},{"t":"2026-08-04T15:45Z","r":39.3},{"t":"2026-08-04T16:15Z","r":39},{"t":"2026-08-04T16:30Z","r":39.1},{"t":"2026-08-04T16:45Z","r":39.9},{"t":"2026-08-04T17:15Z","r":40.6},{"t":"2026-08-04T17:30Z","r":40.86}
]
},
"layer":[
{
"encoding":{
"x":{"field":"t","type":"temporal","scale":{"type":"utc","domain":["2026-08-01T10:08:31Z","2026-08-05T16:49:41Z"]},"axis":null},
"y":{"field":"p","type":"quantitative","scale":{"domain":[21.12,42.7]},"axis":{"title":null,"orient":"right","values":[29,30,31,32,33,34,35,36,37,38,39,40,41],"format":".2f","grid":false,"ticks":false,"domain":false,"labelAlign":"left","labelBaseline":"middle","labelPadding":-55,"labelFontSize":12,"labelColor":"#131722","labelBound":false,"labelFlush":false}}
},
"layer":[
{"data":{"values":[{"t":"2026-08-01T10:38:46Z","t2":"2026-08-05T13:15Z","p":32.33,"p2":31.07}],"format":{"parse":{"t":"date","t2":"date"}}},
"mark":{"type":"rect","color":"#E7EFB6"},"encoding":{"x2":{"field":"t2"},"y2":{"field":"p2"}}},
{"data":{"values":[{"t":"2026-08-01T10:38:46Z","t2":"2026-08-05T13:15Z","p":32.33},{"t":"2026-08-01T10:38:46Z","t2":"2026-08-05T13:15Z","p":31.07}],"format":{"parse":{"t":"date","t2":"date"}}},
"mark":{"type":"rule","color":"#9C9CA2","strokeWidth":2},"encoding":{"x2":{"field":"t2"}}},
{"data":{"name":"bars"},"transform":[{"filter":"isValid(datum.o)"}],
"mark":{"type":"rule","strokeWidth":1.1},
"encoding":{"y":{"field":"l","type":"quantitative","scale":{"domain":[21.12,42.7]},"axis":null},"y2":{"field":"h"},
"color":{"condition":{"test":"datum.c>=datum.o","value":"#089981"},"value":"#F23645"}}},
{"data":{"name":"bars"},"transform":[{"filter":"isValid(datum.o)"}],
"mark":{"type":"rule","strokeWidth":3.4},
"encoding":{"y":{"field":"o","type":"quantitative","scale":{"domain":[21.12,42.7]},"axis":null},"y2":{"field":"c"},
"color":{"condition":{"test":"datum.c>=datum.o","value":"#089981"},"value":"#F23645"}}},
{"data":{"values":[
{"t":"2026-08-01T10:08:31Z","t2":"2026-08-05T16:49:41Z","p":42.7,"p2":42.06},
{"t":"2026-08-01T10:08:31Z","t2":"2026-08-01T10:38:46Z","p":42.7,"p2":21.12},
{"t":"2026-08-05T16:16:12Z","t2":"2026-08-05T16:49:41Z","p":42.7,"p2":21.12}],"format":{"parse":{"t":"date","t2":"date"}}},
"mark":{"type":"rect","color":"#FFFFFF"},"encoding":{"x2":{"field":"t2"},"y2":{"field":"p2"}}},
{"data":{"values":[{"t":"2026-08-01T10:38:46Z","p":42.35,"label":"Cryptojobs created with TradingView.com, Aug 04, 2026 17:43 UTC+2"}]},
"mark":{"type":"text","align":"left","baseline":"middle","fontSize":12,"color":"#131722"},"encoding":{"text":{"field":"label"}}},
{"data":{"values":[{"t":"2026-08-03T05:47Z","t2":"2026-08-05T13:15Z","p":37.64},{"t":"2026-08-03T16:45Z","t2":"2026-08-05T13:15Z","p":35.17}],"format":{"parse":{"t":"date","t2":"date"}}},
"mark":{"type":"rule","color":"#F23645","strokeWidth":2,"strokeDash":[10,12]},"encoding":{"x2":{"field":"t2"}}},
{"data":{"values":[
{"t":"2026-08-04T05:06Z","p":36.44,"id":"upper"},{"t":"2026-08-04T21:07Z","p":32.96,"id":"upper"},
{"t":"2026-08-04T02:43Z","p":34.39,"id":"lower"},{"t":"2026-08-04T18:43Z","p":32.06,"id":"lower"}]},
"mark":{"type":"line","color":"#F23645","strokeWidth":1,"strokeDash":[5,5],"opacity":0.75},"encoding":{"detail":{"field":"id"}}},
{"data":{"values":[
{"t":"2026-08-04T03:30Z","p":38.2,"id":"path"},{"t":"2026-08-04T07:15Z","p":33.88,"id":"path"},{"t":"2026-08-04T09:29Z","p":35.03,"id":"path"},{"t":"2026-08-04T11:16Z","p":33.71,"id":"path"},{"t":"2026-08-04T13:44Z","p":34.42,"id":"path"},{"t":"2026-08-04T15:30Z","p":33.07,"id":"path"},{"t":"2026-08-04T19:01Z","p":34.82,"id":"path"},{"t":"2026-08-04T20:00Z","p":34.18,"id":"path"},{"t":"2026-08-04T23:01Z","p":36.94,"id":"path"},{"t":"2026-08-05T00:58Z","p":36.04,"id":"path"},{"t":"2026-08-05T03:15Z","p":38.65,"id":"path"},
{"t":"2026-08-05T02:54Z","p":38.54,"id":"head"},{"t":"2026-08-05T03:15Z","p":38.65,"id":"head"},{"t":"2026-08-05T03:30Z","p":38.56,"id":"head"}]},
"mark":{"type":"line","color":"#131722","strokeWidth":1.1},"encoding":{"detail":{"field":"id"}}},
{"data":{"values":[{"t":"2026-08-04T10:01Z","p":32.23}]},
"mark":{"type":"point","shape":"M0,-1 L0.93,0.09 L0.5,0.09 L0.5,1 L-0.5,1 L-0.5,0.09 L-0.93,0.09 Z","size":484,"filled":true,"opacity":1,"color":"#089981"},"encoding":{}},
{"data":{"values":[{"t":"2026-08-03T21:41Z","t2":"2026-08-05T12:40Z","p":29.38,"p2":28.74}],"format":{"parse":{"t":"date","t2":"date"}}},
"mark":{"type":"rect","color":"#FFFBE6"},"encoding":{"x2":{"field":"t2"},"y2":{"field":"p2"}}},
{"data":{"values":[{"t":"2026-08-04T17:09Z","p":29.04,"label":"Educational only — not a signal. Leverage  = high risk."}]},
"mark":{"type":"text","align":"center","baseline":"middle","fontSize":20.5,"color":"#131722"},"encoding":{"text":{"field":"label"}}},
{"data":{"values":[
{"t":"2026-08-01T11:09Z","p":41.71,"label":"GIGGLE / TetherUS · 15 · Binance","kind":"name"},
{"t":"2026-08-01T21:36Z","p":41.71,"label":"O","kind":"name"},{"t":"2026-08-01T22:04Z","p":41.71,"label":"33.35","kind":"value"},
{"t":"2026-08-02T00:08Z","p":41.71,"label":"H","kind":"name"},{"t":"2026-08-02T00:38Z","p":41.71,"label":"33.57","kind":"value"},
{"t":"2026-08-02T02:37Z","p":41.71,"label":"L","kind":"name"},{"t":"2026-08-02T02:59Z","p":41.71,"label":"33.03","kind":"value"},
{"t":"2026-08-02T05:04Z","p":41.71,"label":"C","kind":"name"},{"t":"2026-08-02T05:27Z","p":41.71,"label":"33.56","kind":"value"},
{"t":"2026-08-02T07:28Z","p":41.71,"label":"+0.19 (+0.57%)","kind":"value"},
{"t":"2026-08-01T11:09Z","p":41.31,"label":"Watermark","kind":"name"}]},
"mark":{"type":"text","align":"left","baseline":"middle","fontSize":12.3},
"encoding":{"text":{"field":"label"},"color":{"condition":{"test":"datum.kind=='value'","value":"#2FA58F"},"value":"#131722"}}},
{"data":{"values":[
{"t":"2026-08-05T13:45Z","p":41,"label":"41.00"},{"t":"2026-08-05T13:45Z","p":40,"label":"40.00"},{"t":"2026-08-05T13:45Z","p":39,"label":"39.00"},{"t":"2026-08-05T13:45Z","p":38,"label":"38.00"},{"t":"2026-08-05T13:45Z","p":37,"label":"37.00"},{"t":"2026-08-05T13:45Z","p":36,"label":"36.00"},{"t":"2026-08-05T13:45Z","p":35,"label":"35.00"},{"t":"2026-08-05T13:45Z","p":34,"label":"34.00"},{"t":"2026-08-05T13:45Z","p":33,"label":"33.00"},{"t":"2026-08-05T13:45Z","p":32,"label":"32.00"},{"t":"2026-08-05T13:45Z","p":31,"label":"31.00"},{"t":"2026-08-05T13:45Z","p":30,"label":"30.00"},{"t":"2026-08-05T13:45Z","p":29,"label":"29.00"}]},
"mark":{"type":"text","align":"left","baseline":"middle","fontSize":12,"color":"#131722"},"encoding":{"text":{"field":"label"}}},
{"data":{"values":[{"t":"2026-08-05T13:28Z","t2":"2026-08-05T16:02Z","p":41.96,"p2":41.36}],"format":{"parse":{"t":"date","t2":"date"}}},
"mark":{"type":"rect","color":"#FFFFFF","stroke":"#EEEEEE","cornerRadius":4},"encoding":{"x2":{"field":"t2"},"y2":{"field":"p2"}}},
{"data":{"values":[{"t":"2026-08-05T14:44Z","p":41.66,"label":"USDT"}]},
"mark":{"type":"text","align":"center","baseline":"middle","fontSize":11,"color":"#131722"},"encoding":{"text":{"field":"label"}}},
{"data":{"values":[
{"t":"2026-08-05T13:18Z","t2":"2026-08-05T15:42Z","p":39.69,"p2":39.3,"kind":"dark"},
{"t":"2026-08-05T13:18Z","t2":"2026-08-05T15:42Z","p":37.84,"p2":37.44,"kind":"down"},
{"t":"2026-08-05T13:18Z","t2":"2026-08-05T15:42Z","p":35.37,"p2":34.97,"kind":"down"},
{"t":"2026-08-05T13:18Z","t2":"2026-08-05T15:42Z","p":33.76,"p2":33.03,"kind":"up"}],"format":{"parse":{"t":"date","t2":"date"}}},
"mark":{"type":"rect","cornerRadius":2},
"encoding":{"x2":{"field":"t2"},"y2":{"field":"p2"},"color":{"field":"kind","type":"nominal","legend":null,"scale":{"domain":["up","down","dark"],"range":["#089981","#F23645","#4A4A4A"]}}}},
{"data":{"values":[
{"t":"2026-08-05T14:35Z","p":39.49,"label":"39.50"},{"t":"2026-08-05T14:35Z","p":37.64,"label":"37.64"},{"t":"2026-08-05T14:35Z","p":35.17,"label":"35.17"},{"t":"2026-08-05T14:35Z","p":33.55,"label":"33.56"},{"t":"2026-08-05T14:35Z","p":33.22,"label":"01:45"}]},
"mark":{"type":"text","align":"center","baseline":"middle","fontSize":12,"fontWeight":500},
"encoding":{"text":{"field":"label"},"color":{"condition":{"test":"datum.label=='01:45'","value":"#B5DFD6"},"value":"#FFFFFF"}}}
]
},
{
"encoding":{
"x":{"field":"t","type":"temporal","scale":{"type":"utc","domain":["2026-08-01T10:08:31Z","2026-08-05T16:49:41Z"]},"axis":{"title":null,"orient":"bottom","tickCount":{"interval":"hour","step":3},"labelExpr":"utcdate(datum.value)==5 && utchours(datum.value)>12 ? '' : utchours(datum.value)==0 ? utcFormat(datum.value,'%-d') : utcFormat(datum.value,'%H:%M')","grid":false,"ticks":false,"domain":false,"labelBaseline":"middle","labelPadding":-74,"labelFontSize":12,"labelColor":"#131722","labelOverlap":false,"labelFlush":false,"labelBound":false}},
"y":{"field":"r","type":"quantitative","scale":{"domain":[-19.9,285.77]},"axis":{"title":null,"orient":"right","values":[20,40,60,80],"format":".2f","grid":false,"ticks":false,"domain":false,"labelAlign":"left","labelBaseline":"middle","labelPadding":-55,"labelFontSize":12,"labelColor":"#131722","labelBound":false,"labelFlush":false}}
},
"layer":[
{"data":{"values":[{"t":"2026-08-01T10:08:31Z","t2":"2026-08-05T16:49:41Z","r":0.1,"r2":-19.9}],"format":{"parse":{"t":"date","t2":"date"}}},
"mark":{"type":"rect","color":"#FFFFFF"},"encoding":{"x2":{"field":"t2"},"y2":{"field":"r2"}}},
{"data":{"values":[{"t":"2026-08-01T10:38:46Z","t2":"2026-08-05T13:15Z","r":70,"r2":30}],"format":{"parse":{"t":"date","t2":"date"}}},
"mark":{"type":"rect","color":"#F2E7C0"},"encoding":{"x2":{"field":"t2"},"y2":{"field":"r2"}}},
{"data":{"values":[{"t":"2026-08-01T10:38:46Z","t2":"2026-08-05T13:15Z","r":70},{"t":"2026-08-01T10:38:46Z","t2":"2026-08-05T13:15Z","r":30}],"format":{"parse":{"t":"date","t2":"date"}}},
"mark":{"type":"rule","color":"#787B86","strokeWidth":1,"strokeDash":[4,4]},"encoding":{"x2":{"field":"t2"}}},
{"data":{"values":[{"t":"2026-08-01T10:38:46Z","t2":"2026-08-05T13:15Z","r":50}],"format":{"parse":{"t":"date","t2":"date"}}},
"mark":{"type":"rule","color":"#787B86","strokeWidth":1,"strokeDash":[4,4],"opacity":0.5},"encoding":{"x2":{"field":"t2"}}},
{"data":{"values":[{"t":"2026-08-01T10:38:46Z","t2":"2026-08-05T16:16:12Z","r":84.1}],"format":{"parse":{"t":"date","t2":"date"}}},
"mark":{"type":"rule","color":"#D3D6E2","strokeWidth":1.5},"encoding":{"x2":{"field":"t2"}}},
{"data":{"values":[{"t":"2026-08-03T20:12Z","r":30},{"t":"2026-08-03T20:15Z","r":29.1},{"t":"2026-08-03T20:30Z","r":28.9},{"t":"2026-08-03T20:45Z","r":29.5},{"t":"2026-08-03T21:00Z","r":29.1},{"t":"2026-08-03T21:15Z","r":26.1},{"t":"2026-08-03T21:30Z","r":27.4},{"t":"2026-08-03T21:45Z","r":25.8},{"t":"2026-08-03T22:00Z","r":24.5},{"t":"2026-08-03T22:09Z","r":30}]},
"mark":{"type":"area","color":{"gradient":"linear","x1":0,"y1":0,"x2":0,"y2":1,"stops":[{"offset":0,"color":"#FCF0BC"},{"offset":1,"color":"#F9DDB0"}]}},"encoding":{"y2":{"datum":30}}},
{"data":{"values":[{"t":"2026-08-04T05:36Z","r":30},{"t":"2026-08-04T05:45Z","r":20.8},{"t":"2026-08-04T06:00Z","r":23.8},{"t":"2026-08-04T06:15Z","r":22.4},{"t":"2026-08-04T06:30Z","r":20},{"t":"2026-08-04T06:45Z","r":16},{"t":"2026-08-04T07:00Z","r":17.1},{"t":"2026-08-04T07:15Z","r":23.5},{"t":"2026-08-04T07:27Z","r":30}]},
"mark":{"type":"area","color":{"gradient":"linear","x1":0,"y1":0,"x2":0,"y2":1,"stops":[{"offset":0,"color":"#FDF0BC"},{"offset":1,"color":"#EF8F78"}]}},"encoding":{"y2":{"datum":30}}},
{"data":{"values":[{"t":"2026-08-04T06:01Z","r":12.1},{"t":"2026-08-04T22:00Z","r":42.1}]},
"mark":{"type":"line","color":"#F23645","strokeWidth":1,"strokeDash":[5,5],"opacity":0.85},"encoding":{}},
{"data":{"name":"ma"},"mark":{"type":"line","color":"#FDD835","strokeWidth":1},"encoding":{}},
{"data":{"name":"bars"},"mark":{"type":"line","color":"#7E57C2","strokeWidth":1},"encoding":{}},
{"data":{"values":[
{"t":"2026-08-01T12:00Z","r":4.87,"label":"12:00"},{"t":"2026-08-01T15:00Z","r":4.87,"label":"15:00"},{"t":"2026-08-01T18:00Z","r":4.87,"label":"18:00"},{"t":"2026-08-01T21:00Z","r":4.87,"label":"21:00"},
{"t":"2026-08-02T00:00Z","r":4.87,"label":"2"},{"t":"2026-08-02T03:00Z","r":4.87,"label":"03:00"},{"t":"2026-08-02T06:00Z","r":4.87,"label":"06:00"},{"t":"2026-08-02T09:00Z","r":4.87,"label":"09:00"},{"t":"2026-08-02T12:00Z","r":4.87,"label":"12:00"},{"t":"2026-08-02T15:00Z","r":4.87,"label":"15:00"},{"t":"2026-08-02T18:00Z","r":4.87,"label":"18:00"},{"t":"2026-08-02T21:00Z","r":4.87,"label":"21:00"},
{"t":"2026-08-03T00:00Z","r":4.87,"label":"3"},{"t":"2026-08-03T03:00Z","r":4.87,"label":"03:00"},{"t":"2026-08-03T06:00Z","r":4.87,"label":"06:00"},{"t":"2026-08-03T09:00Z","r":4.87,"label":"09:00"},{"t":"2026-08-03T12:00Z","r":4.87,"label":"12:00"},{"t":"2026-08-03T15:00Z","r":4.87,"label":"15:00"},{"t":"2026-08-03T18:00Z","r":4.87,"label":"18:00"},{"t":"2026-08-03T21:00Z","r":4.87,"label":"21:00"},
{"t":"2026-08-04T00:00Z","r":4.87,"label":"4"},{"t":"2026-08-04T03:00Z","r":4.87,"label":"03:00"},{"t":"2026-08-04T06:00Z","r":4.87,"label":"06:00"},{"t":"2026-08-04T09:00Z","r":4.87,"label":"09:00"},{"t":"2026-08-04T12:00Z","r":4.87,"label":"12:00"},{"t":"2026-08-04T15:00Z","r":4.87,"label":"15:00"},{"t":"2026-08-04T18:00Z","r":4.87,"label":"18:00"},{"t":"2026-08-04T21:00Z","r":4.87,"label":"21:00"},
{"t":"2026-08-05T00:00Z","r":4.87,"label":"5"},{"t":"2026-08-05T03:00Z","r":4.87,"label":"03:00"},{"t":"2026-08-05T06:00Z","r":4.87,"label":"06:00"},{"t":"2026-08-05T09:00Z","r":4.87,"label":"09:00"},{"t":"2026-08-05T12:00Z","r":4.87,"label":"12:00"}]},
"mark":{"type":"text","align":"center","baseline":"middle","fontSize":12,"color":"#131722"},"encoding":{"text":{"field":"label"}}},
{"data":{"values":[{"t":"2026-08-01T11:09Z","r":79.1,"label":"RSI (14, close)"}]},
"mark":{"type":"text","align":"left","baseline":"middle","fontSize":12,"color":"#131722"},"encoding":{"text":{"field":"label"}}},
{"data":{"values":[{"t":"2026-08-01T15:51Z","r":79.1,"label":"44.88"}]},
"mark":{"type":"text","align":"left","baseline":"middle","fontSize":12,"color":"#7E57C2"},"encoding":{"text":{"field":"label"}}},
{"data":{"values":[{"t":"2026-08-01T17:53Z","r":79.1,"label":"40.86"}]},
"mark":{"type":"text","align":"left","baseline":"middle","fontSize":12,"color":"#FDD835"},"encoding":{"text":{"field":"label"}}},
{"data":{"values":[{"t":"2026-08-05T13:18Z","t2":"2026-08-05T15:42Z","r":47.67,"r2":42}],"format":{"parse":{"t":"date","t2":"date"}}},
"mark":{"type":"rect","color":"#7E57C2","cornerRadius":2},"encoding":{"x2":{"field":"t2"},"y2":{"field":"r2"}}},
{"data":{"values":[{"t":"2026-08-05T13:18Z","t2":"2026-08-05T15:42Z","r":42,"r2":36.53}],"format":{"parse":{"t":"date","t2":"date"}}},
"mark":{"type":"rect","color":"#FDD835","cornerRadius":2},"encoding":{"x2":{"field":"t2"},"y2":{"field":"r2"}}},
{"data":{"values":[{"t":"2026-08-05T14:35Z","r":44.83,"label":"44.88"}]},
"mark":{"type":"text","align":"center","baseline":"middle","fontSize":12,"fontWeight":500,"color":"#FFFFFF"},"encoding":{"text":{"field":"label"}}},
{"data":{"values":[{"t":"2026-08-05T14:35Z","r":39.27,"label":"40.86"}]},
"mark":{"type":"text","align":"center","baseline":"middle","fontSize":12,"color":"#131722"},"encoding":{"text":{"field":"label"}}},
{"data":{"values":[{"t":"2026-08-01T11:37Z","r":-9.9}]},
"mark":{"type":"point","shape":"M-1,-0.5 L-0.2,-0.5 L-0.2,0.5 L-0.58,0.5 L-0.58,-0.05 L-1,-0.05 Z M0.22,-0.28 A0.2,0.2 0 1 1 -0.18,-0.28 A0.2,0.2 0 1 1 0.22,-0.28 Z M0.45,-0.5 L1,-0.5 L0.55,0.5 L0,0.5 Z","size":841,"filled":true,"opacity":1,"color":"#000000"},"encoding":{}},
{"data":{"values":[{"t":"2026-08-01T12:53Z","r":-9.9,"label":"TradingView"}]},
"mark":{"type":"text","align":"left","baseline":"middle","fontSize":19,"fontWeight":600,"font":"Inter","color":"#000000"},"encoding":{"text":{"field":"label"}}},
{"data":{"values":[{"t":"2026-08-05T06:25Z","r":-11.5}]},
"mark":{"type":"point","shape":"M0,-1 L1,0 L0,1 L-1,0 Z M0,-0.45 L0.45,0 L0,0.45 L-0.45,0 Z","size":700,"filled":false,"opacity":1,"strokeWidth":2,"color":"#D8D5DD"},"encoding":{}},
{"data":{"values":[{"t":"2026-08-05T07:32Z","r":-11.5,"label":"@ Crypto-Jobs"}]},
"mark":{"type":"text","align":"left","baseline":"middle","fontSize":24.5,"font":"Lato","color":"#C9C5D0"},"encoding":{"text":{"field":"label"}}}
]
}
]
}
